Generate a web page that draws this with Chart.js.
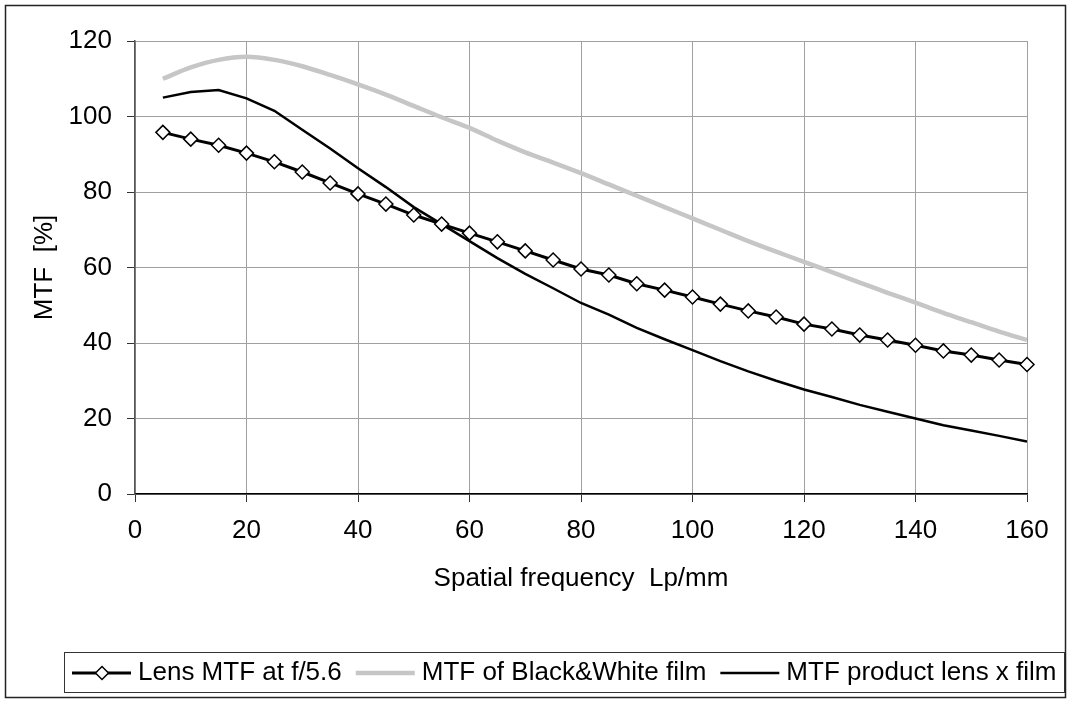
<!DOCTYPE html>
<html>
<head>
<meta charset="utf-8">
<script src="https://cdn.jsdelivr.net/npm/chart.js@4"></script>
<style>
  html, body { margin: 0; padding: 0; background: #fff; }
  canvas { display: block; }
</style>
</head>
<body>
<canvas id="mtfChart" width="1073" height="703"></canvas>
<script>
// spatial frequency, Lp/mm
const freq = [5, 10, 15, 20, 25, 30, 35, 40, 45, 50, 55, 60, 65, 70, 75, 80,
  85, 90, 95, 100, 105, 110, 115, 120, 125, 130, 135, 140, 145, 150, 155, 160];

// values, MTF in %
const lensMtf = [95.8, 94.0, 92.4, 90.3, 88.0, 85.3, 82.4, 79.5, 76.8, 73.9, 71.5, 69.1,
  66.8, 64.4, 62.0, 59.6, 58.0, 55.7, 54.0, 52.2, 50.3, 48.5, 46.9, 45.0,
  43.7, 42.1, 40.8, 39.4, 37.9, 36.8, 35.5, 34.3];
const filmMtf = [110.0, 113.0, 115.0, 115.8, 115.0, 113.3, 111.0, 108.5, 105.8, 102.8, 99.8, 97.0,
  93.6, 90.5, 87.8, 85.0, 82.0, 79.0, 76.0, 73.0, 70.0, 67.0, 64.2, 61.5,
  58.8, 56.0, 53.3, 50.7, 48.0, 45.5, 43.0, 40.8];
const productMtf = [105.0, 106.5, 107.0, 104.8, 101.5, 96.5, 91.5, 86.3, 81.3, 76.0, 71.5, 67.0,
  62.5, 58.3, 54.5, 50.6, 47.5, 44.0, 41.0, 38.1, 35.2, 32.5, 30.0, 27.7,
  25.7, 23.6, 21.8, 20.0, 18.2, 16.8, 15.4, 13.9];

const seriesNames = ['Lens MTF at f/5.6', 'MTF of Black&White film', 'MTF product lens x film'];
const xTicks = [0, 20, 40, 60, 80, 100, 120, 140, 160];
const yTicks = [0, 20, 40, 60, 80, 100, 120];

const FONT = '"Liberation Sans", Arial, sans-serif';
const FONT_SIZE = 26;
const FILM_GREY = '#c6c6c6';

function pts(ys) {
  return freq.map((f, i) => ({ x: f, y: ys[i] }));
}

// frame round the picture and the boxed legend at the bottom
const framePlugin = {
  id: 'framePlugin',
  afterDraw(chart) {
    const c = chart.ctx;
    c.save();
    c.strokeStyle = '#222';
    c.lineWidth = 1.5;
    c.strokeRect(5.5, 5.5, 1060, 692);

    c.lineWidth = 1;
    c.strokeStyle = '#333';
    c.strokeRect(64.5, 652.5, 1000, 40);

    c.font = FONT_SIZE + 'px ' + FONT;
    c.fillStyle = '#000';
    c.textBaseline = 'middle';
    const y = 673;
    let x = 72;
    seriesNames.forEach((name, i) => {
      const ds = chart.data.datasets[i];
      c.beginPath();
      c.strokeStyle = ds.borderColor;
      c.lineWidth = ds.borderWidth;
      c.moveTo(x, y);
      c.lineTo(x + 59, y);
      c.stroke();
      if (i === 0) {
        const cx = x + 30, r = 6.5;
        c.beginPath();
        c.moveTo(cx - r, y);
        c.lineTo(cx, y - r);
        c.lineTo(cx + r, y);
        c.lineTo(cx, y + r);
        c.closePath();
        c.fillStyle = '#fff';
        c.fill();
        c.lineWidth = 1.5;
        c.strokeStyle = '#000';
        c.stroke();
        c.fillStyle = '#000';
      }
      x += 66;
      c.fillText(name, x, y);
      x += c.measureText(name).width + 14;
    });
    c.restore();
  }
};

new Chart(document.getElementById('mtfChart'), {
  type: 'line',
  data: {
    datasets: [
      {
        label: seriesNames[0],
        data: pts(lensMtf),
        borderColor: '#000',
        borderWidth: 3,
        pointStyle: 'rectRot',
        pointRadius: 7,
        pointBackgroundColor: '#fff',
        pointBorderColor: '#000',
        pointBorderWidth: 1.5,
        tension: 0,
        clip: false
      },
      {
        label: seriesNames[1],
        data: pts(filmMtf),
        borderColor: FILM_GREY,
        borderWidth: 4.5,
        pointRadius: 0,
        tension: 0.3
      },
      {
        label: seriesNames[2],
        data: pts(productMtf),
        borderColor: '#000',
        borderWidth: 2.5,
        pointRadius: 0,
        tension: 0
      }
    ]
  },
  options: {
    responsive: false,
    animation: false,
    layout: { padding: { left: 0, right: 46, top: 41, bottom: 99 } },
    plugins: {
      legend: { display: false },
      tooltip: { enabled: false }
    },
    scales: {
      x: {
        type: 'linear',
        min: 0,
        max: 160,
        afterBuildTicks(scale) { scale.ticks = xTicks.map(v => ({ value: v })); },
        afterFit(scale) { scale.height = 110; },
        grid: { color: '#a0a0a0', lineWidth: 1, tickLength: 8, tickColor: '#333' },
        border: { color: '#000', width: 1.5 },
        ticks: { color: '#000', font: { family: FONT, size: FONT_SIZE }, padding: 13, maxRotation: 0 },
        title: {
          display: true,
          text: 'Spatial frequency  Lp/mm',
          color: '#000',
          font: { family: FONT, size: FONT_SIZE },
          padding: { top: 0, bottom: 10 }
        }
      },
      y: {
        min: 0,
        max: 120,
        afterBuildTicks(scale) { scale.ticks = yTicks.map(v => ({ value: v })); },
        afterFit(scale) { scale.width = 135; },
        grid: { color: '#a0a0a0', lineWidth: 1, tickLength: 8, tickColor: '#333' },
        border: { color: '#555', width: 1.5 },
        ticks: { color: '#000', font: { family: FONT, size: FONT_SIZE }, padding: 15 },
        title: {
          display: true,
          text: 'MTF  [%]',
          color: '#000',
          font: { family: FONT, size: FONT_SIZE },
          padding: { top: 29, bottom: 0 }
        }
      }
    }
  },
  plugins: [framePlugin]
});
</script>
</body>
</html>
